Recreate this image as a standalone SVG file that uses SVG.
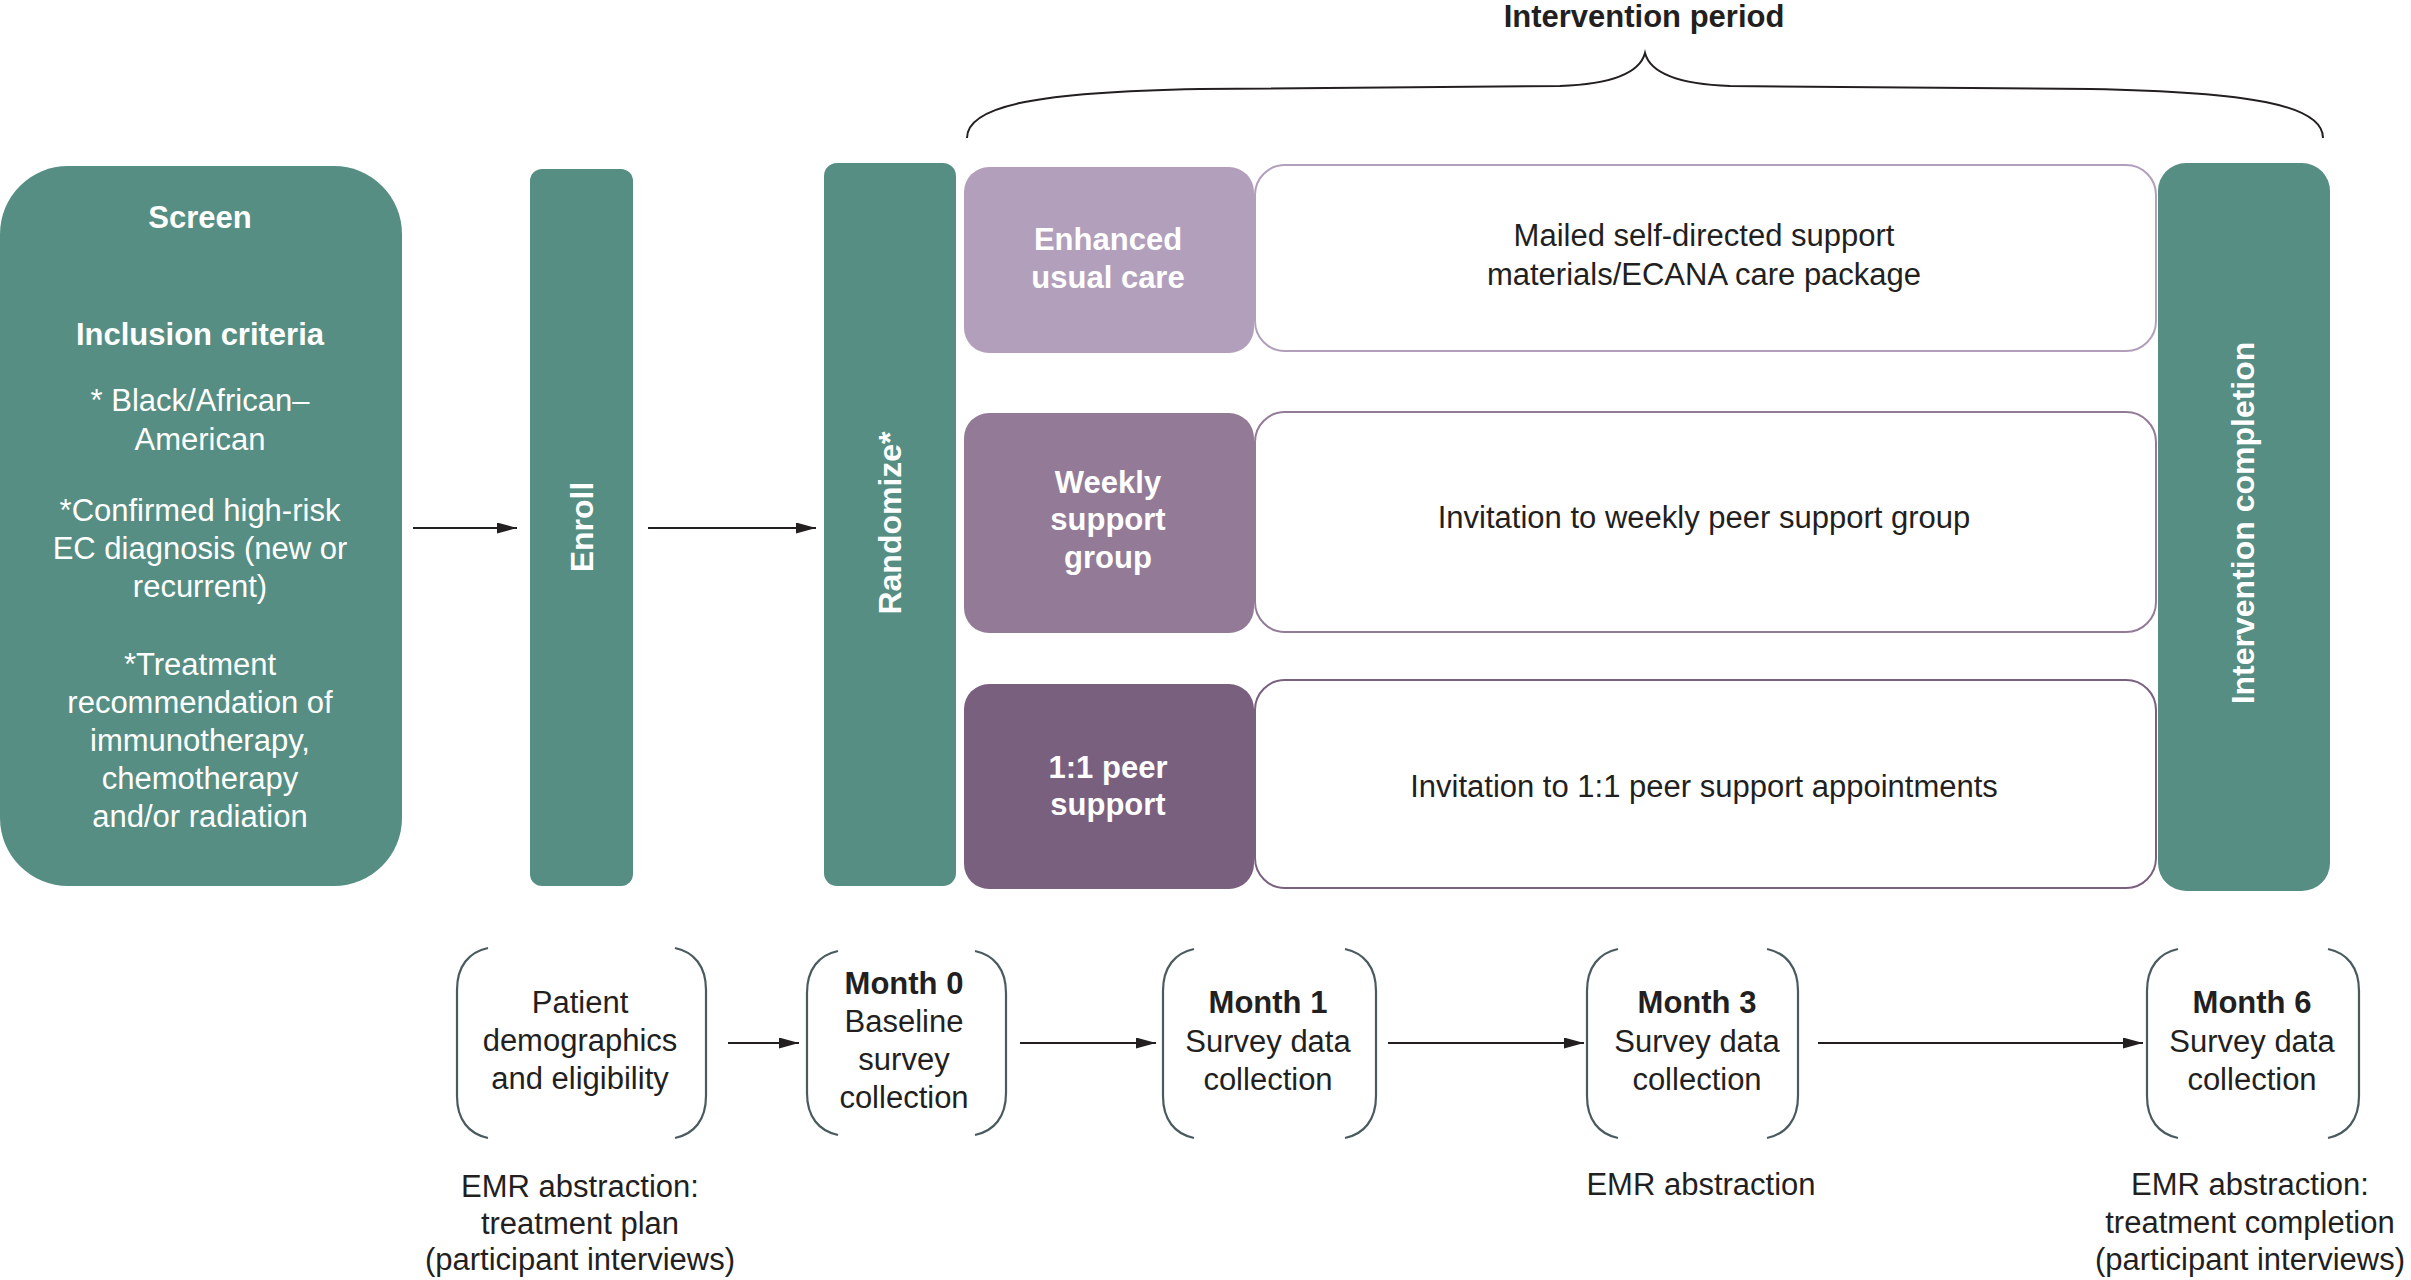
<svg xmlns="http://www.w3.org/2000/svg" width="2411" height="1280" viewBox="0 0 2411 1280">
<defs>
<marker id="arr" markerWidth="20" markerHeight="11" refX="20" refY="5.5" orient="auto" markerUnits="userSpaceOnUse">
<path d="M0,0 L20,5.5 L0,11 Z" fill="#231f20"/>
</marker>
<style>
text{font-family:"Liberation Sans",Arial,Helvetica,sans-serif;font-size:31px;text-anchor:middle}
.w{fill:#ffffff}
.k{fill:#231f20}
.b{font-weight:bold}
.rot{font-weight:bold;font-size:32px;fill:#ffffff}
.teal{fill:#568e83}
.p1{fill:#b29fbb}
.p2{fill:#937b97}
.p3{fill:#7a607f}
.wb{fill:#ffffff;stroke-width:2}
.conn{stroke:#231f20;stroke-width:2;fill:none}
.brk{stroke:#4a5b5f;stroke-width:2.2;fill:none}
</style>
</defs>
<rect width="2411" height="1280" fill="#ffffff"/>

<g id="screen">
<rect class="teal" x="0" y="166" width="402" height="720" rx="68"/>
<text class="w b" x="200" y="228">Screen</text>
<text class="w b" x="200" y="345">Inclusion criteria</text>
<text class="w" x="200" y="411">* Black/African–</text>
<text class="w" x="200" y="450">American</text>
<text class="w" x="200" y="521">*Confirmed high-risk</text>
<text class="w" x="200" y="559">EC diagnosis (new or</text>
<text class="w" x="200" y="597">recurrent)</text>
<text class="w" x="200" y="675">*Treatment</text>
<text class="w" x="200" y="713">recommendation of</text>
<text class="w" x="200" y="751">immunotherapy,</text>
<text class="w" x="200" y="789">chemotherapy</text>
<text class="w" x="200" y="827">and/or radiation</text>
</g>

<g id="enroll">
<rect class="teal" x="530" y="169" width="103" height="717" rx="12"/>
<text class="rot" transform="translate(593,527) rotate(-90)">Enroll</text>
</g>

<g id="randomize">
<rect class="teal" x="824" y="163" width="132" height="723" rx="13"/>
<text class="rot" transform="translate(901,523) rotate(-90)">Randomize*</text>
</g>

<g id="period">
<path class="conn" d="M967,138 C967,105 1040,92 1200,89 L1560,86 C1615,84 1640,72 1645,53 C1650,72 1675,84 1730,86 L2090,89 C2250,92 2323,105 2323,138"/>
<text class="k b" x="1644" y="27">Intervention period</text>
</g>

<g id="arm1">
<rect class="p1" x="964" y="167" width="290" height="186" rx="25"/>
<text class="w b" x="1108" y="250">Enhanced</text>
<text class="w b" x="1108" y="288">usual care</text>
</g>
<g id="arm1-desc">
<rect class="wb" x="1255" y="165" width="901" height="186" rx="30" stroke="#b29fbb"/>
<text class="k" x="1704" y="246">Mailed self-directed support</text>
<text class="k" x="1704" y="285">materials/ECANA care package</text>
</g>

<g id="arm2">
<rect class="p2" x="964" y="413" width="290" height="220" rx="25"/>
<text class="w b" x="1108" y="493">Weekly</text>
<text class="w b" x="1108" y="530">support</text>
<text class="w b" x="1108" y="568">group</text>
</g>
<g id="arm2-desc">
<rect class="wb" x="1255" y="412" width="901" height="220" rx="30" stroke="#937b97"/>
<text class="k" x="1704" y="528">Invitation to weekly peer support group</text>
</g>

<g id="arm3">
<rect class="p3" x="964" y="684" width="290" height="205" rx="25"/>
<text class="w b" x="1108" y="778">1:1 peer</text>
<text class="w b" x="1108" y="815">support</text>
</g>
<g id="arm3-desc">
<rect class="wb" x="1255" y="680" width="901" height="208" rx="30" stroke="#7a607f"/>
<text class="k" x="1704" y="797">Invitation to 1:1 peer support appointments</text>
</g>

<g id="completion">
<rect class="teal" x="2158" y="163" width="172" height="728" rx="28"/>
<text class="rot" transform="translate(2254,523) rotate(-90)">Intervention completion</text>
</g>

<g id="patient">
<path class="brk" d="M488,948 C469,952 457,966 457,990 L457,1096 C457,1120 469,1134 488,1138"/>
<path class="brk" d="M675,948 C694,952 706,966 706,990 L706,1096 C706,1120 694,1134 675,1138"/>
<text class="k" x="580" y="1013">Patient</text>
<text class="k" x="580" y="1051">demographics</text>
<text class="k" x="580" y="1089">and eligibility</text>
<text class="k" x="580" y="1197">EMR abstraction:</text>
<text class="k" x="580" y="1234">treatment plan</text>
<text class="k" x="580" y="1270">(participant interviews)</text>
</g>

<g id="month0">
<path class="brk" d="M838,951 C819,955 807,969 807,993 L807,1093 C807,1117 819,1131 838,1135"/>
<path class="brk" d="M975,951 C994,955 1006,969 1006,993 L1006,1093 C1006,1117 994,1131 975,1135"/>
<text class="k b" x="904" y="994">Month 0</text>
<text class="k" x="904" y="1032">Baseline</text>
<text class="k" x="904" y="1070">survey</text>
<text class="k" x="904" y="1108">collection</text>
</g>

<g id="month1">
<path class="brk" d="M1194,949 C1175,953 1163,967 1163,991 L1163,1096 C1163,1120 1175,1134 1194,1138"/>
<path class="brk" d="M1345,949 C1364,953 1376,967 1376,991 L1376,1096 C1376,1120 1364,1134 1345,1138"/>
<text class="k b" x="1268" y="1013">Month 1</text>
<text class="k" x="1268" y="1052">Survey data</text>
<text class="k" x="1268" y="1090">collection</text>
</g>

<g id="month3">
<path class="brk" d="M1618,949 C1599,953 1587,967 1587,991 L1587,1096 C1587,1120 1599,1134 1618,1138"/>
<path class="brk" d="M1767,949 C1786,953 1798,967 1798,991 L1798,1096 C1798,1120 1786,1134 1767,1138"/>
<text class="k b" x="1697" y="1013">Month 3</text>
<text class="k" x="1697" y="1052">Survey data</text>
<text class="k" x="1697" y="1090">collection</text>
<text class="k" x="1701" y="1195">EMR abstraction</text>
</g>

<g id="month6">
<path class="brk" d="M2178,949 C2159,953 2147,967 2147,991 L2147,1096 C2147,1120 2159,1134 2178,1138"/>
<path class="brk" d="M2328,949 C2347,953 2359,967 2359,991 L2359,1096 C2359,1120 2347,1134 2328,1138"/>
<text class="k b" x="2252" y="1013">Month 6</text>
<text class="k" x="2252" y="1052">Survey data</text>
<text class="k" x="2252" y="1090">collection</text>
<text class="k" x="2250" y="1195">EMR abstraction:</text>
<text class="k" x="2250" y="1233">treatment completion</text>
<text class="k" x="2250" y="1270">(participant interviews)</text>
</g>

<g id="connectors">
<line class="conn" x1="413" y1="528" x2="517" y2="528" marker-end="url(#arr)"/>
<line class="conn" x1="648" y1="528" x2="816" y2="528" marker-end="url(#arr)"/>
<line class="conn" x1="728" y1="1043" x2="799" y2="1043" marker-end="url(#arr)"/>
<line class="conn" x1="1020" y1="1043" x2="1156" y2="1043" marker-end="url(#arr)"/>
<line class="conn" x1="1388" y1="1043" x2="1584" y2="1043" marker-end="url(#arr)"/>
<line class="conn" x1="1818" y1="1043" x2="2143" y2="1043" marker-end="url(#arr)"/>
</g>
</svg>
